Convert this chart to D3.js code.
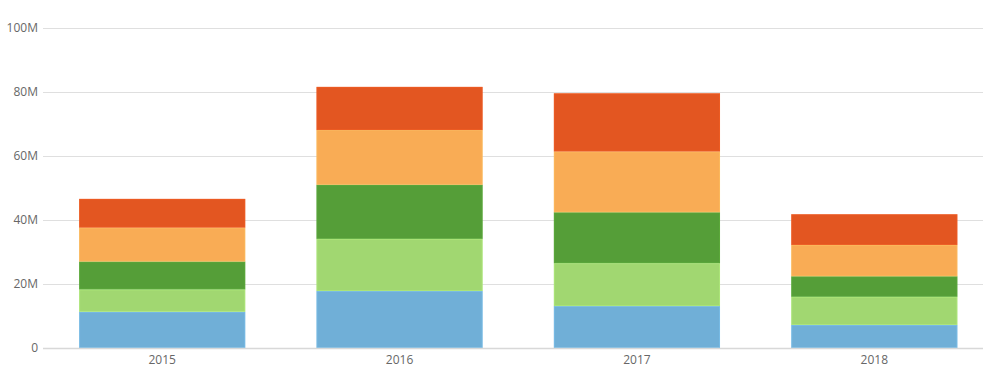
<!DOCTYPE html>
<html><head><meta charset="utf-8">
<script src="https://cdn.jsdelivr.net/npm/d3@7"></script>
<style>body{margin:0;background:#fff;}svg{display:block;font-family:"Open Sans",sans-serif;}</style>
</head><body>
<svg id="chart" width="983" height="379"></svg>
<script>
const categories = ["2015", "2016", "2017", "2018"];
const seriesNames = ["A", "B", "C", "D", "E"];
const seriesA = [11.3, 17.8, 13.1, 7.2];
const seriesB = [7.0, 16.3, 13.4, 8.8];
const seriesC = [8.7, 16.9, 15.9, 6.4];
const seriesD = [10.6, 17.1, 19.0, 9.8];
const seriesE = [9.0, 13.5, 18.2, 9.6];
const colors = ["#70afd7", "#a1d771", "#559e38", "#f9ac55", "#e35621"];
const yTicks = [0, 20, 40, 60, 80, 100];
const yTickLabels = ["0", "20M", "40M", "60M", "80M", "100M"];

const allSeries = [seriesA, seriesB, seriesC, seriesD, seriesE];
const rows = categories.map((c, i) => {
  const r = {cat: c};
  seriesNames.forEach((s, j) => r[s] = allSeries[j][i]);
  return r;
});
const stacked = d3.stack().keys(seriesNames)(rows);

const svg = d3.select("#chart");
const x = d3.scaleBand().domain(categories).range([43.5, 993]).paddingInner(0.3).paddingOuter(0.15);
const y = d3.scaleLinear().domain([0, 100]).range([348, 28]);

// gridlines
svg.append("g").selectAll("line").data(yTicks).join("line")
  .attr("x1", 43).attr("x2", 983)
  .attr("y1", d => Math.round(y(d)) + 0.5).attr("y2", d => Math.round(y(d)) + 0.5)
  .attr("stroke", "#dfdfdf").attr("stroke-width", 1);

// y labels
svg.append("g").selectAll("text").data(yTicks).join("text")
  .attr("x", 38).attr("y", d => y(d) + 4)
  .attr("text-anchor", "end").attr("font-size", 12).attr("fill", "#676767")
  .text((d, i) => yTickLabels[i]);

// bars
svg.append("g").selectAll("g").data(stacked).join("g")
  .attr("fill", (d, i) => colors[i])
  .selectAll("rect").data(d => d).join("rect")
  .attr("x", d => x(d.data.cat))
  .attr("width", x.bandwidth())
  .attr("y", d => y(d[1]))
  .attr("height", d => y(d[0]) - y(d[1]));

// bar outlines (lighter, subtle)
svg.append("g").selectAll("g").data(stacked).join("g")
  .attr("stroke", (d, i) => d3.color(colors[i]).brighter(0.5))
  .attr("fill", "none").attr("stroke-width", 1).attr("stroke-opacity", 0.35)
  .selectAll("rect").data(d => d).join("rect")
  .attr("x", d => x(d.data.cat) + 0.5)
  .attr("width", x.bandwidth() - 1)
  .attr("y", d => y(d[1]) + 0.5)
  .attr("height", d => Math.max(0, y(d[0]) - y(d[1]) - 1));

// axis line
svg.append("line").attr("x1", 43).attr("x2", 983).attr("y1", 348.5).attr("y2", 348.5)
  .attr("stroke", "#d8d8d8").attr("stroke-width", 1.5);

// x labels
svg.append("g").selectAll("text").data(categories).join("text")
  .attr("x", d => x(d) + x.bandwidth() / 2).attr("y", 364)
  .attr("text-anchor", "middle").attr("font-size", 12).attr("fill", "#676767")
  .text(d => d);
</script>
</body></html>
